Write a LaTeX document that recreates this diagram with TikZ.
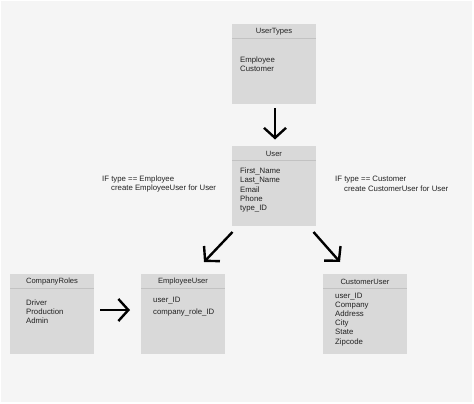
\documentclass[tikz,border=0pt]{standalone}
\usepackage{fontspec}
\setmainfont{Liberation Sans}
\usetikzlibrary{arrows.meta}
\definecolor{bg}{HTML}{F5F5F5}
\definecolor{boxgray}{HTML}{D9D9D9}
\definecolor{divline}{HTML}{C2C2C2}
\definecolor{txt}{HTML}{222222}
\tikzset{
  tbl/.style={fill=boxgray, draw=none, minimum width=84pt, minimum height=80pt, anchor=north west, inner sep=0pt},
  ttl/.style={font=\fontsize{7.6}{9.1}\selectfont, text=txt, inner sep=0pt},
  body/.style={font=\fontsize{7.8}{9.1}\selectfont, text=txt, align=left, anchor=north west, inner sep=0pt},
  cond/.style={font=\fontsize{7.8}{9.1}\selectfont, text=txt, anchor=west, inner sep=0pt},
  divider/.style={draw=divline, line width=0.8pt},
  arr/.style={-{Straight Barb[length=10pt,width=22pt,line width=2.4pt]}, line width=2.4pt, black}
}
\begin{document}
\begin{tikzpicture}[x=1pt,y=-1pt]
\useasboundingbox (0,0) rectangle (474,404);
\fill[white] (0,0) rectangle (474,404);
\fill[bg] (1,1) rectangle (472,402);

% boxes
\node[tbl] (ut) at (232,24) {};
\node[tbl] (us) at (232,146) {};
\node[tbl] (cr) at (10,274) {};
\node[tbl] (eu) at (141,274) {};
\node[tbl] (cu) at (323,274) {};

\draw[divider] ([yshift=-14pt]ut.north west) -- ([yshift=-14pt]ut.north east);
\draw[divider] ([yshift=-14pt]us.north west) -- ([yshift=-14pt]us.north east);
\draw[divider] ([yshift=-14pt]cr.north west) -- ([yshift=-14pt]cr.north east);
\draw[divider] ([yshift=-14pt]eu.north west) -- ([yshift=-14pt]eu.north east);
\draw[divider] ([yshift=-14pt]cu.north west) -- ([yshift=-14pt]cu.north east);

% titles
\node[ttl] (utt) at (274,32) {UserTypes};
\node[ttl] (ust) at (274,154) {User};
\node[ttl] (crt) at (52,282) {CompanyRoles};
\node[ttl] (eut) at (183,282) {EmployeeUser};
\node[ttl] (cut) at (365,282) {CustomerUser};

% bodies
\node[body] (utb) at (240,56.5) {Employee\\Customer};
\node[body] (usb) at (240,168) {First\_Name\\Last\_Name\\Email\\Phone\\type\_ID};
\node[body] (crb) at (26,299.5) {Driver\\Production\\Admin};
\node[body] (eub) at (153,297) {user\_ID\\[3pt]company\_role\_ID};
\node[body] (cub) at (335,293) {user\_ID\\Company\\Address\\City\\State\\Zipcode};

% conditions
\node[cond] (c1a) at (102,179.3) {IF type == Employee};
\node[cond] (c1b) at (111,188.3) {create EmployeeUser for User};
\node[cond] (c2a) at (335,179.3) {IF type == Customer};
\node[cond] (c2b) at (344,188.3) {create CustomerUser for User};

% arrow end points
\coordinate (a1s) at (275,108);
\coordinate (a1e) at (275,139.5);
\coordinate (a2s) at (232.5,232);
\coordinate (a2e) at (204,262);
\coordinate (a3s) at (313.5,232);
\coordinate (a3e) at (340,262);
\coordinate (a4s) at (100,310);
\coordinate (a4e) at (130,310);

\draw[arr] (a1s) -- (a1e);
\draw[arr] (a2s) -- (a2e);
\draw[arr] (a3s) -- (a3e);
\draw[arr] (a4s) -- (a4e);
\end{tikzpicture}
\end{document}
